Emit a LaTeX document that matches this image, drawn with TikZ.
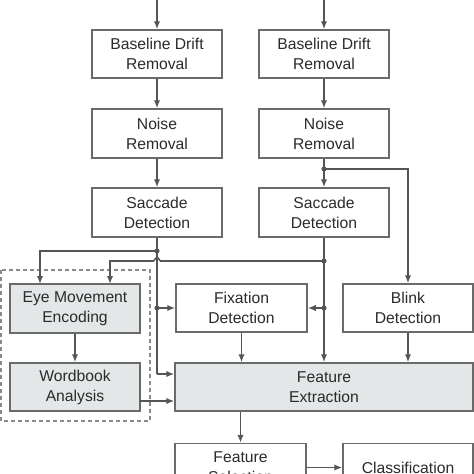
\documentclass[tikz,border=0pt]{standalone}
\usepackage{fontspec}
\setmainfont{Liberation Sans}
\usetikzlibrary{arrows.meta}
\definecolor{lnc}{HTML}{555555}
\definecolor{bdc}{HTML}{6A6A6A}
\definecolor{flc}{HTML}{E3E7E7}
\definecolor{txc}{HTML}{2B2B2B}
\definecolor{dsc}{HTML}{8A8A8A}
\begin{document}
\begin{tikzpicture}[x=1pt,y=-1pt,
 box/.style={draw=bdc,line width=1.5pt,fill=white,minimum width=130pt,minimum height=48pt,inner sep=0pt,align=center,text=txc,font=\fontsize{15.7}{20}\selectfont},
 gbox/.style={box,fill=flc},
 ar/.style={draw=lnc,line width=1.6pt,-{Latex[length=8pt,width=6.5pt]}},
 conn/.style={draw=lnc,line width=1.6pt},
 grp/.style={draw=dsc,line width=1.3pt,dash pattern=on 4pt off 3pt}]
\useasboundingbox (0,0) rectangle (474,474);
\clip (0,0) rectangle (474,474);
% group frame
\draw[grp] (1,270) rectangle (150,421);
% nodes
\node[box] (bd1) at (157,54) {Baseline Drift\\Removal};
\node[box,minimum height=49pt] (nr1) at (157,133.5) {Noise\\Removal};
\node[box,minimum height=49pt] (sd1) at (157,212.5) {Saccade\\Detection};
\node[box] (bd2) at (324,54) {Baseline Drift\\Removal};
\node[box,minimum height=49pt] (nr2) at (324,133.5) {Noise\\Removal};
\node[box,minimum height=49pt] (sd2) at (324,212.5) {Saccade\\Detection};
\node[gbox,minimum height=49pt] (eme) at (75,308.5) {Eye Movement\\Encoding};
\node[gbox] (wa) at (75,387) {Wordbook\\Analysis};
\node[box,minimum width=131pt] (fd) at (241.5,308) {Fixation\\Detection};
\node[box] (bl) at (408,308) {Blink\\Detection};
\node[gbox,minimum width=298pt] (fe) at (324,387) {Feature\\Extraction};
\node[box,minimum width=131pt] (fs) at (240.5,467.5) {Feature\\Selection};
\node[box] (cl) at (408,467.5) {Classification};
% coordinates
\coordinate (t1) at (157,0);
\coordinate (t2) at (324,0);
\coordinate (j0) at (324,169);
\coordinate (j1) at (157,251);
\coordinate (j2) at (157,308);
\coordinate (j3) at (157,374);
\coordinate (k1) at (324,261);
\coordinate (k2) at (324,308);
\coordinate (e1) at (40,284);
\coordinate (e2) at (110,284);
\coordinate (w1) at (140,401);
% connectors
\draw[ar] (t1) -- (bd1.north);
\draw[ar] (t2) -- (bd2.north);
\draw[ar] (bd1) -- (nr1);
\draw[ar] (nr1) -- (sd1);
\draw[ar] (bd2) -- (nr2);
\draw[conn] (nr2.south) -- (j0);
\draw[ar] (j0) -- (sd2.north);
\draw[ar] (j0) -| (bl.north);
\draw[conn] (sd1.south) -- (j1);
\draw[ar] (j1) -| (e1);
\draw[conn] (j1) -- (j3);
\draw[ar] (j3) -- (j3 -| fe.west);
\draw[ar] (j2) -- (fd.west);
\draw[ar] (sd2.south) -- (fe.north);
\draw[ar] (k2) -- (fd.east);
\draw[ar] (k1) -- (160.5,261) -- (157,257) -- (153.5,261) -| (e2);
\draw[ar] (fd.south) -- (fd.south |- fe.north);
\draw[ar] (bl.south) -- (bl.south |- fe.north);
\draw[ar] (eme) -- (wa);
\draw[ar] (w1) -- (w1 -| fe.west);
\draw[ar] (fs.north |- fe.south) -- (fs.north);
\draw[ar] (fs.east) -- (cl.west);
% junction dots
\foreach \p in {j0,j1,j2,k1,k2} \fill[lnc] (\p) circle (2.6pt);
\end{tikzpicture}
\end{document}
